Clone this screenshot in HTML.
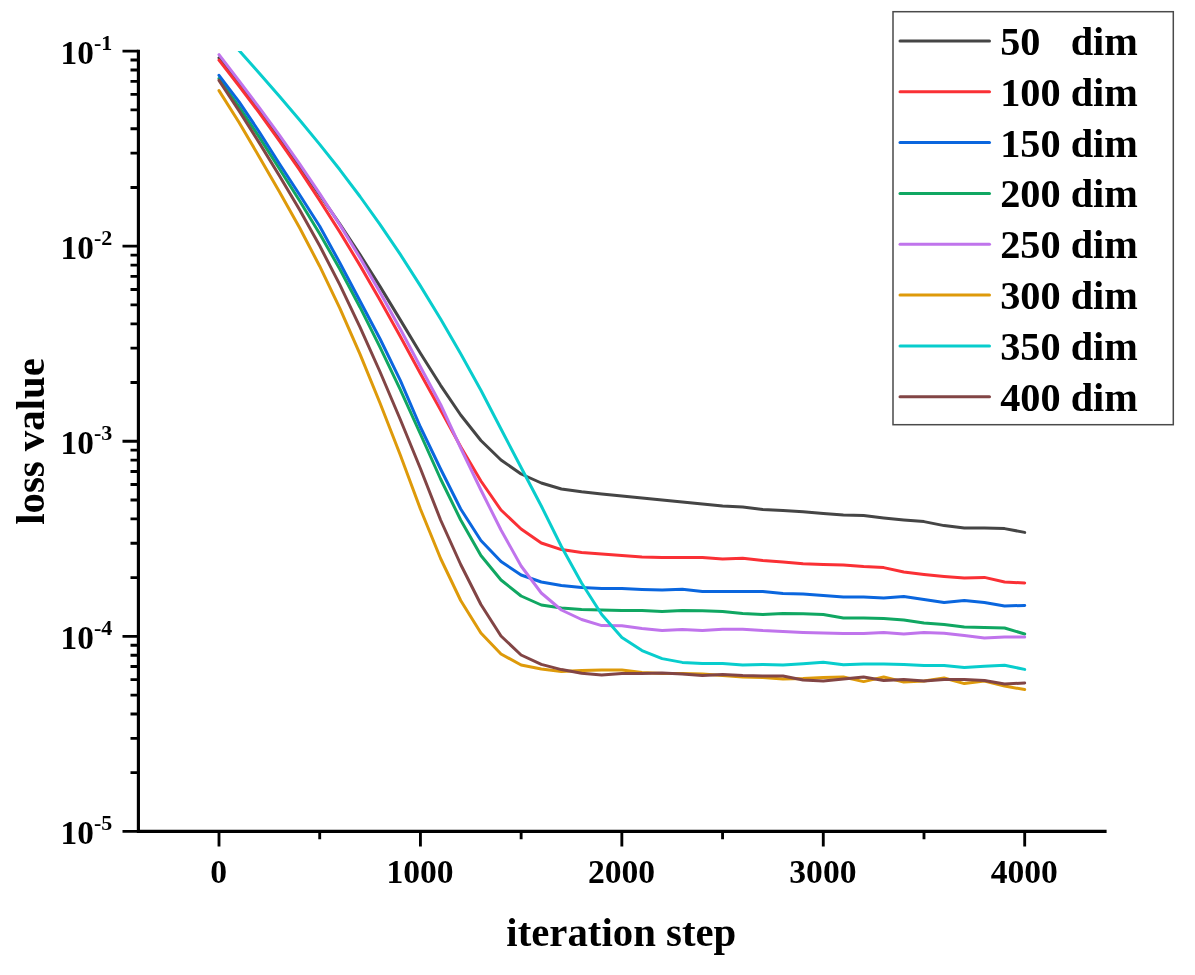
<!DOCTYPE html>
<html lang="en"><head><meta charset="utf-8"><title>loss value vs iteration step</title>
<style>html,body{margin:0;padding:0;background:#fff}body{width:1195px;height:975px;overflow:hidden}svg{display:block}text{white-space:pre}</style>
</head><body>
<svg width="1195" height="975" viewBox="0 0 1195 975">
<rect width="1195" height="975" fill="#fff"/>
<defs><clipPath id="plot"><rect x="140" y="51" width="966" height="781"/></clipPath></defs>
<g clip-path="url(#plot)" fill="none" stroke-width="3.0" stroke-linejoin="round" stroke-linecap="round">
<polyline stroke="#454545" points="219.0,57.9 239.1,84.2 259.3,111.0 279.4,138.3 299.6,166.2 319.7,194.8 339.9,224.1 360.0,254.6 380.1,286.6 400.3,319.9 420.4,353.2 440.6,385.3 460.7,415.0 480.9,440.5 501.0,460.0 521.1,474.0 541.3,483.0 561.4,489.0 581.6,491.8 601.7,494.0 621.9,496.0 642.0,498.0 662.1,500.0 682.3,502.0 702.4,504.0 722.6,506.0 742.7,507.0 762.8,509.4 783.0,510.6 803.1,511.8 823.3,513.6 843.4,515.0 863.6,515.6 883.7,518.0 903.8,520.0 924.0,521.6 944.1,525.6 964.3,528.0 984.4,528.0 1004.6,528.6 1024.7,532.4"/>
<polyline stroke="#fa3035" points="219.0,60.2 239.1,86.0 259.3,112.9 279.4,140.8 299.6,169.9 319.7,200.3 339.9,232.1 360.0,265.4 380.1,300.3 400.3,336.4 420.4,373.5 440.6,410.0 460.7,446.8 480.9,481.0 501.0,510.0 521.1,529.0 541.3,543.0 561.4,549.6 581.6,552.4 601.7,554.0 621.9,555.6 642.0,557.0 662.1,557.6 682.3,557.4 702.4,557.4 722.6,559.0 742.7,558.2 762.8,560.4 783.0,562.0 803.1,563.7 823.3,564.4 843.4,565.0 863.6,566.6 883.7,567.6 903.8,572.0 924.0,574.4 944.1,576.4 964.3,578.0 984.4,577.4 1004.6,582.0 1024.7,583.0"/>
<polyline stroke="#10a762" points="219.0,78.5 239.1,106.9 259.3,137.2 279.4,168.7 299.6,200.7 319.7,233.7 339.9,269.2 360.0,307.2 380.1,347.4 400.3,389.7 420.4,434.0 440.6,479.0 460.7,520.0 480.9,555.5 501.0,580.0 521.1,596.0 541.3,605.0 561.4,608.0 581.6,609.4 601.7,610.0 621.9,610.4 642.0,610.6 662.1,611.4 682.3,610.4 702.4,610.8 722.6,611.4 742.7,613.4 762.8,614.4 783.0,613.4 803.1,613.7 823.3,614.4 843.4,618.0 863.6,618.0 883.7,618.6 903.8,620.0 924.0,623.0 944.1,624.6 964.3,627.0 984.4,627.6 1004.6,628.0 1024.7,634.0"/>
<polyline stroke="#0a66de" points="219.0,75.3 239.1,101.8 259.3,132.0 279.4,163.7 299.6,194.7 319.7,226.2 339.9,263.0 360.0,301.0 380.1,339.0 400.3,380.3 420.4,427.0 440.6,469.0 460.7,509.0 480.9,540.5 501.0,561.5 521.1,575.0 541.3,582.0 561.4,585.6 581.6,587.6 601.7,588.4 621.9,588.4 642.0,589.4 662.1,590.0 682.3,589.2 702.4,591.4 722.6,591.4 742.7,591.4 762.8,591.4 783.0,593.6 803.1,594.0 823.3,595.6 843.4,597.0 863.6,597.0 883.7,598.0 903.8,596.6 924.0,599.4 944.1,602.4 964.3,600.6 984.4,602.6 1004.6,606.0 1024.7,605.4"/>
<polyline stroke="#c074ec" points="219.0,54.6 239.1,80.9 259.3,107.7 279.4,135.2 299.6,163.8 319.7,193.6 339.9,224.9 360.0,257.8 380.1,292.6 400.3,329.1 420.4,366.7 440.6,404.5 460.7,448.0 480.9,490.0 501.0,530.0 521.1,566.0 541.3,593.0 561.4,610.0 581.6,619.5 601.7,625.6 621.9,625.8 642.0,628.6 662.1,630.4 682.3,629.4 702.4,630.4 722.6,629.2 742.7,629.2 762.8,630.6 783.0,631.4 803.1,632.4 823.3,633.0 843.4,633.6 863.6,633.6 883.7,632.4 903.8,634.0 924.0,632.6 944.1,633.2 964.3,635.6 984.4,638.0 1004.6,637.0 1024.7,637.0"/>
<polyline stroke="#de9a0a" points="219.0,90.6 239.1,122.5 259.3,156.9 279.4,191.7 299.6,227.7 319.7,266.2 339.9,308.4 360.0,354.1 380.1,403.2 400.3,455.0 420.4,509.0 440.6,558.5 460.7,600.5 480.9,633.0 501.0,654.0 521.1,665.0 541.3,669.0 561.4,671.4 581.6,670.6 601.7,670.0 621.9,670.0 642.0,672.4 662.1,673.4 682.3,673.6 702.4,674.0 722.6,675.6 742.7,677.0 762.8,677.6 783.0,679.0 803.1,678.5 823.3,677.4 843.4,677.0 863.6,681.6 883.7,677.0 903.8,682.0 924.0,681.0 944.1,678.0 964.3,683.6 984.4,681.0 1004.6,686.0 1024.7,689.6"/>
<polyline stroke="#08cdcd" points="219.0,27.9 239.1,50.5 259.3,73.2 279.4,96.3 299.6,119.9 319.7,144.4 339.9,169.8 360.0,196.5 380.1,224.6 400.3,254.4 420.4,285.9 440.6,319.0 460.7,353.8 480.9,390.3 501.0,429.0 521.1,467.5 541.3,506.0 561.4,546.5 581.6,583.0 601.7,614.5 621.9,637.6 642.0,650.6 662.1,658.6 682.3,662.4 702.4,663.6 722.6,663.6 742.7,665.0 762.8,664.4 783.0,665.0 803.1,663.8 823.3,662.2 843.4,664.8 863.6,664.0 883.7,664.0 903.8,664.6 924.0,665.5 944.1,665.5 964.3,667.6 984.4,666.2 1004.6,665.3 1024.7,669.4"/>
<polyline stroke="#824545" points="219.0,80.3 239.1,110.8 259.3,142.9 279.4,175.8 299.6,209.7 319.7,245.8 339.9,284.9 360.0,327.1 380.1,372.0 400.3,419.5 420.4,468.5 440.6,520.0 460.7,564.5 480.9,604.5 501.0,636.0 521.1,655.0 541.3,664.4 561.4,669.6 581.6,673.2 601.7,675.0 621.9,673.6 642.0,673.6 662.1,673.0 682.3,674.0 702.4,675.6 722.6,674.4 742.7,675.6 762.8,676.0 783.0,676.0 803.1,680.0 823.3,681.0 843.4,679.0 863.6,677.0 883.7,680.6 903.8,679.6 924.0,681.0 944.1,679.6 964.3,679.6 984.4,680.4 1004.6,684.0 1024.7,683.0"/>
</g>
<g stroke="#000" fill="none" stroke-linecap="butt">
<path stroke-width="3.15" d="M138.4 49.68V832.98M136.83 831.4H1106.6"/>
<path stroke-width="2.85" d="M122.5 51.10H138.4 M130.5 187.45H138.4 M130.5 153.10H138.4 M130.5 128.73H138.4 M130.5 109.82H138.4 M130.5 94.38H138.4 M130.5 81.32H138.4 M130.5 70.00H138.4 M130.5 60.03H138.4 M122.5 246.17H138.4 M130.5 382.53H138.4 M130.5 348.18H138.4 M130.5 323.80H138.4 M130.5 304.90H138.4 M130.5 289.45H138.4 M130.5 276.39H138.4 M130.5 265.08H138.4 M130.5 255.10H138.4 M122.5 441.25H138.4 M130.5 577.60H138.4 M130.5 543.25H138.4 M130.5 518.88H138.4 M130.5 499.97H138.4 M130.5 484.53H138.4 M130.5 471.47H138.4 M130.5 460.15H138.4 M130.5 450.18H138.4 M122.5 636.32H138.4 M130.5 772.68H138.4 M130.5 738.33H138.4 M130.5 713.95H138.4 M130.5 695.05H138.4 M130.5 679.60H138.4 M130.5 666.54H138.4 M130.5 655.23H138.4 M130.5 645.25H138.4 M122.5 831.40H138.4 M219.00 831.4V846.6 M319.71 831.4V839.2 M420.43 831.4V846.6 M521.14 831.4V839.2 M621.85 831.4V846.6 M722.56 831.4V839.2 M823.28 831.4V846.6 M923.99 831.4V839.2 M1024.70 831.4V846.6"/>
</g>
<g font-family="'Liberation Serif', 'Times New Roman', serif" font-weight="bold" fill="#000">
<text transform="translate(60.6 63.5)" font-size="33.3">10<tspan dy="-13.9" font-size="22">-1</tspan></text>
<text transform="translate(60.6 258.6)" font-size="33.3">10<tspan dy="-13.9" font-size="22">-2</tspan></text>
<text transform="translate(60.6 453.6)" font-size="33.3">10<tspan dy="-13.9" font-size="22">-3</tspan></text>
<text transform="translate(60.6 648.7)" font-size="33.3">10<tspan dy="-13.9" font-size="22">-4</tspan></text>
<text transform="translate(60.6 843.8)" font-size="33.3">10<tspan dy="-13.9" font-size="22">-5</tspan></text>
<text transform="translate(218.6 883.2) scale(0.995 1)" font-size="33.8" text-anchor="middle">0</text>
<text transform="translate(420.0 883.2) scale(0.995 1)" font-size="33.8" text-anchor="middle">1000</text>
<text transform="translate(621.5 883.2) scale(0.995 1)" font-size="33.8" text-anchor="middle">2000</text>
<text transform="translate(822.9 883.2) scale(0.995 1)" font-size="33.8" text-anchor="middle">3000</text>
<text transform="translate(1024.3 883.2) scale(0.995 1)" font-size="33.8" text-anchor="middle">4000</text>
<text transform="translate(621.3 946.3) scale(1.02 1)" font-size="40" text-anchor="middle">iteration step</text>
<text transform="translate(43.8 441.5) rotate(-90) scale(1.02 1)" font-size="40" text-anchor="middle">loss value</text>
<rect x="893" y="11.7" width="280.3" height="413" fill="#fff" stroke="#4a4a4a" stroke-width="1.5"/>
<path d="M900 40.9H989.5" stroke="#454545" stroke-width="3.0" stroke-linecap="round" fill="none"/>
<text xml:space="preserve" transform="translate(1000.2 54.8) scale(0.983 1)" font-size="41">50   dim</text>
<path d="M900 91.7H989.5" stroke="#fa3035" stroke-width="3.0" stroke-linecap="round" fill="none"/>
<text xml:space="preserve" transform="translate(1000.2 105.6) scale(0.983 1)" font-size="41">100 dim</text>
<path d="M900 142.6H989.5" stroke="#0a66de" stroke-width="3.0" stroke-linecap="round" fill="none"/>
<text xml:space="preserve" transform="translate(1000.2 156.5) scale(0.983 1)" font-size="41">150 dim</text>
<path d="M900 193.4H989.5" stroke="#10a762" stroke-width="3.0" stroke-linecap="round" fill="none"/>
<text xml:space="preserve" transform="translate(1000.2 207.3) scale(0.983 1)" font-size="41">200 dim</text>
<path d="M900 244.2H989.5" stroke="#c074ec" stroke-width="3.0" stroke-linecap="round" fill="none"/>
<text xml:space="preserve" transform="translate(1000.2 258.1) scale(0.983 1)" font-size="41">250 dim</text>
<path d="M900 295.0H989.5" stroke="#de9a0a" stroke-width="3.0" stroke-linecap="round" fill="none"/>
<text xml:space="preserve" transform="translate(1000.2 308.9) scale(0.983 1)" font-size="41">300 dim</text>
<path d="M900 345.9H989.5" stroke="#08cdcd" stroke-width="3.0" stroke-linecap="round" fill="none"/>
<text xml:space="preserve" transform="translate(1000.2 359.8) scale(0.983 1)" font-size="41">350 dim</text>
<path d="M900 396.7H989.5" stroke="#824545" stroke-width="3.0" stroke-linecap="round" fill="none"/>
<text xml:space="preserve" transform="translate(1000.2 410.6) scale(0.983 1)" font-size="41">400 dim</text>
</g>
</svg>
</body></html>
